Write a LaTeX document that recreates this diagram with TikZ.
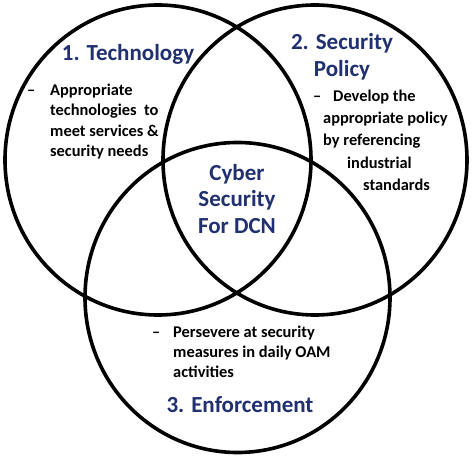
\documentclass[tikz,border=0pt]{standalone}
\usepackage{fontspec}
\setmainfont{Carlito}
\definecolor{navy}{RGB}{32,48,112}
\begin{document}
\begin{tikzpicture}[x=1pt,y=-1pt,
  ring/.style={draw=black,line width=3.6pt},
  title/.style={font=\bfseries\fontsize{23}{27}\selectfont,text=navy,inner sep=0pt},
  body/.style={font=\bfseries\fontsize{16.4}{20}\selectfont,text=black,inner sep=0pt,anchor=mid west}]
\useasboundingbox (0,0) rectangle (474,457);
\fill[white] (0,0) rectangle (474,457);
\draw[ring] (158,160) ellipse [x radius=153pt, y radius=155pt];
\draw[ring] (315,160) ellipse [x radius=152pt, y radius=155pt];
\draw[ring] (237.5,297.5) ellipse [x radius=152.5pt, y radius=155pt];
% titles
\node[title,anchor=mid] (t1) at (128,58) {1. Technology};
\node[title,anchor=mid] (t2a) at (342,47) {2. Security};
\node[title,anchor=mid] (t2b) at (342,74) {Policy};
\node[title,anchor=mid] (t3) at (240,410) {3. Enforcement};
\node[title,anchor=mid] (m1) at (237,178) {Cyber};
\node[title,anchor=mid] (m2) at (237,204) {Security};
\node[title,anchor=mid] (m3) at (237,231) {For DCN};
% technology bullet
\node[body] (d1) at (27,93) {--};
\node[body] (a1) at (50,93) {Appropriate};
\node[body] (a2) at (50,113) {technologies\ \ to};
\node[body] (a3) at (50,134) {meet services \&};
\node[body] (a4) at (50,154) {security needs};
% policy bullet
\node[body] (d2) at (313,99) {--};
\node[body] (b1) at (333,99) {Develop the};
\node[body] (b2) at (323,121) {appropriate policy};
\node[body] (b3) at (323,143) {by referencing};
\node[body] (b4) at (347,166) {industrial};
\node[body] (b5) at (363,188) {standards};
% enforcement bullet
\node[body] (d3) at (152,335) {--};
\node[body] (e1) at (173,335) {Persevere at security};
\node[body] (e2) at (173,355) {measures in daily OAM};
\node[body] (e3) at (173,375) {activities};
\end{tikzpicture}
\end{document}
